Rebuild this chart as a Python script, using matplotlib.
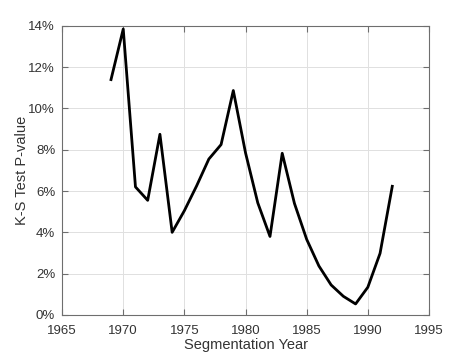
import matplotlib
matplotlib.use("Agg")
import matplotlib.pyplot as plt
from matplotlib.ticker import FuncFormatter

plt.rcParams['font.family'] = ['Liberation Sans', 'DejaVu Sans']

# donnees
years = list(range(1969, 1993))
pvalue = [11.4, 13.85, 6.2, 5.55, 8.75, 4.0, 5.05, 6.25, 7.55, 8.25, 10.87,
          7.85, 5.43, 3.8, 7.83, 5.4, 3.66, 2.37, 1.45, 0.9, 0.53, 1.34,
          2.98, 6.23]

fig = plt.figure(figsize=(4.74, 3.55), dpi=100)
ax = fig.add_axes([0.131, 0.113, 0.774, 0.814])
ax.plot(years, pvalue, color='black', linewidth=2)

ax.set_xlim(1965, 1995)
ax.set_ylim(0, 14)
ax.set_xticks(range(1965, 1996, 5))
ax.set_yticks(range(0, 15, 2))
ax.yaxis.set_major_formatter(FuncFormatter(lambda v, p: '%d%%' % v))

ax.grid(True, color='#e0e0e0', linewidth=0.7)
ax.set_axisbelow(True)
for s in ax.spines.values():
    s.set_color('#6e6e6e')
    s.set_linewidth(0.8)
ax.tick_params(direction='in', top=True, right=True, length=4,
               color='#6e6e6e', labelcolor='#333333', labelsize=9.5, width=0.8)
ax.tick_params(axis='x', pad=7)
ax.tick_params(axis='y', pad=5)

ax.set_xlabel('Segmentation Year', fontsize=10.5, color='#333333', labelpad=1)
ax.set_ylabel('K-S Test P-value', fontsize=10.5, color='#333333')
ax.yaxis.set_label_coords(-0.09, 0.5)

fig.savefig('out.png', dpi=100)
